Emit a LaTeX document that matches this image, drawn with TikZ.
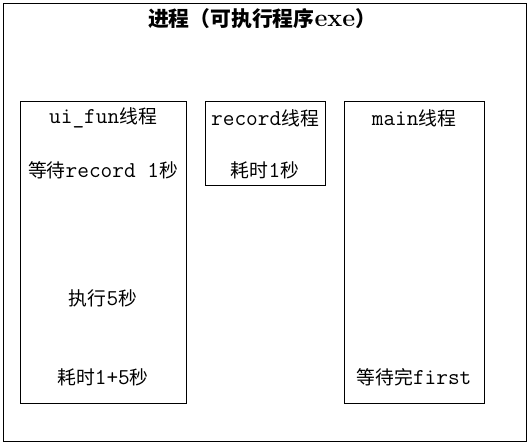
\documentclass[tikz,border=0pt]{standalone}
\usepackage{fontspec}
\newfontfamily\cjk[Scale=0.83]{Noto Sans CJK SC}
\usetikzlibrary{fit}
\tikzset{
  box/.style={draw=black, line width=0.75pt, inner sep=0pt},
  lbl/.style={font=\fontsize{17pt}{20pt}\selectfont\ttfamily, inner sep=0pt, anchor=center},
  ttl/.style={font=\fontsize{18.8pt}{22pt}\selectfont\bfseries, inner sep=0pt, anchor=center}
}
\begin{document}
\begin{tikzpicture}[x=0.75pt, y=-0.75pt]
\useasboundingbox (0,0) rectangle (530,443);
\node[box, fit={(3,3) (526,441)}] (proc) {};
\node[box, fit={(20,101.5) (186,403)}] (ui) {};
\node[box, fit={(205,101.5) (325,185)}] (rec) {};
\node[box, fit={(344.5,101.5) (484,403)}] (main) {};

\node[ttl] (title) at (262,19) {{\cjk\bfseries 进程（可执行程序}{\rmfamily\bfseries exe}{\cjk\bfseries ）}};

\node[lbl] (ui1) at (103,118) {ui\_fun{\cjk 线程}};
\node[lbl] (ui2) at (103,170) {{\cjk 等待}record 1{\cjk 秒}};
\node[lbl] (ui3) at (103,298) {{\cjk 执行}5{\cjk 秒}};
\node[lbl] (ui4) at (103,377) {{\cjk 耗时}1+5{\cjk 秒}};

\node[lbl] (rec1) at (265,118) {record{\cjk 线程}};
\node[lbl] (rec2) at (265,170) {{\cjk 耗时}1{\cjk 秒}};

\node[lbl] (main1) at (414,118) {main{\cjk 线程}};
\node[lbl] (main2) at (414,377) {{\cjk 等待完}first};
\end{tikzpicture}
\end{document}
